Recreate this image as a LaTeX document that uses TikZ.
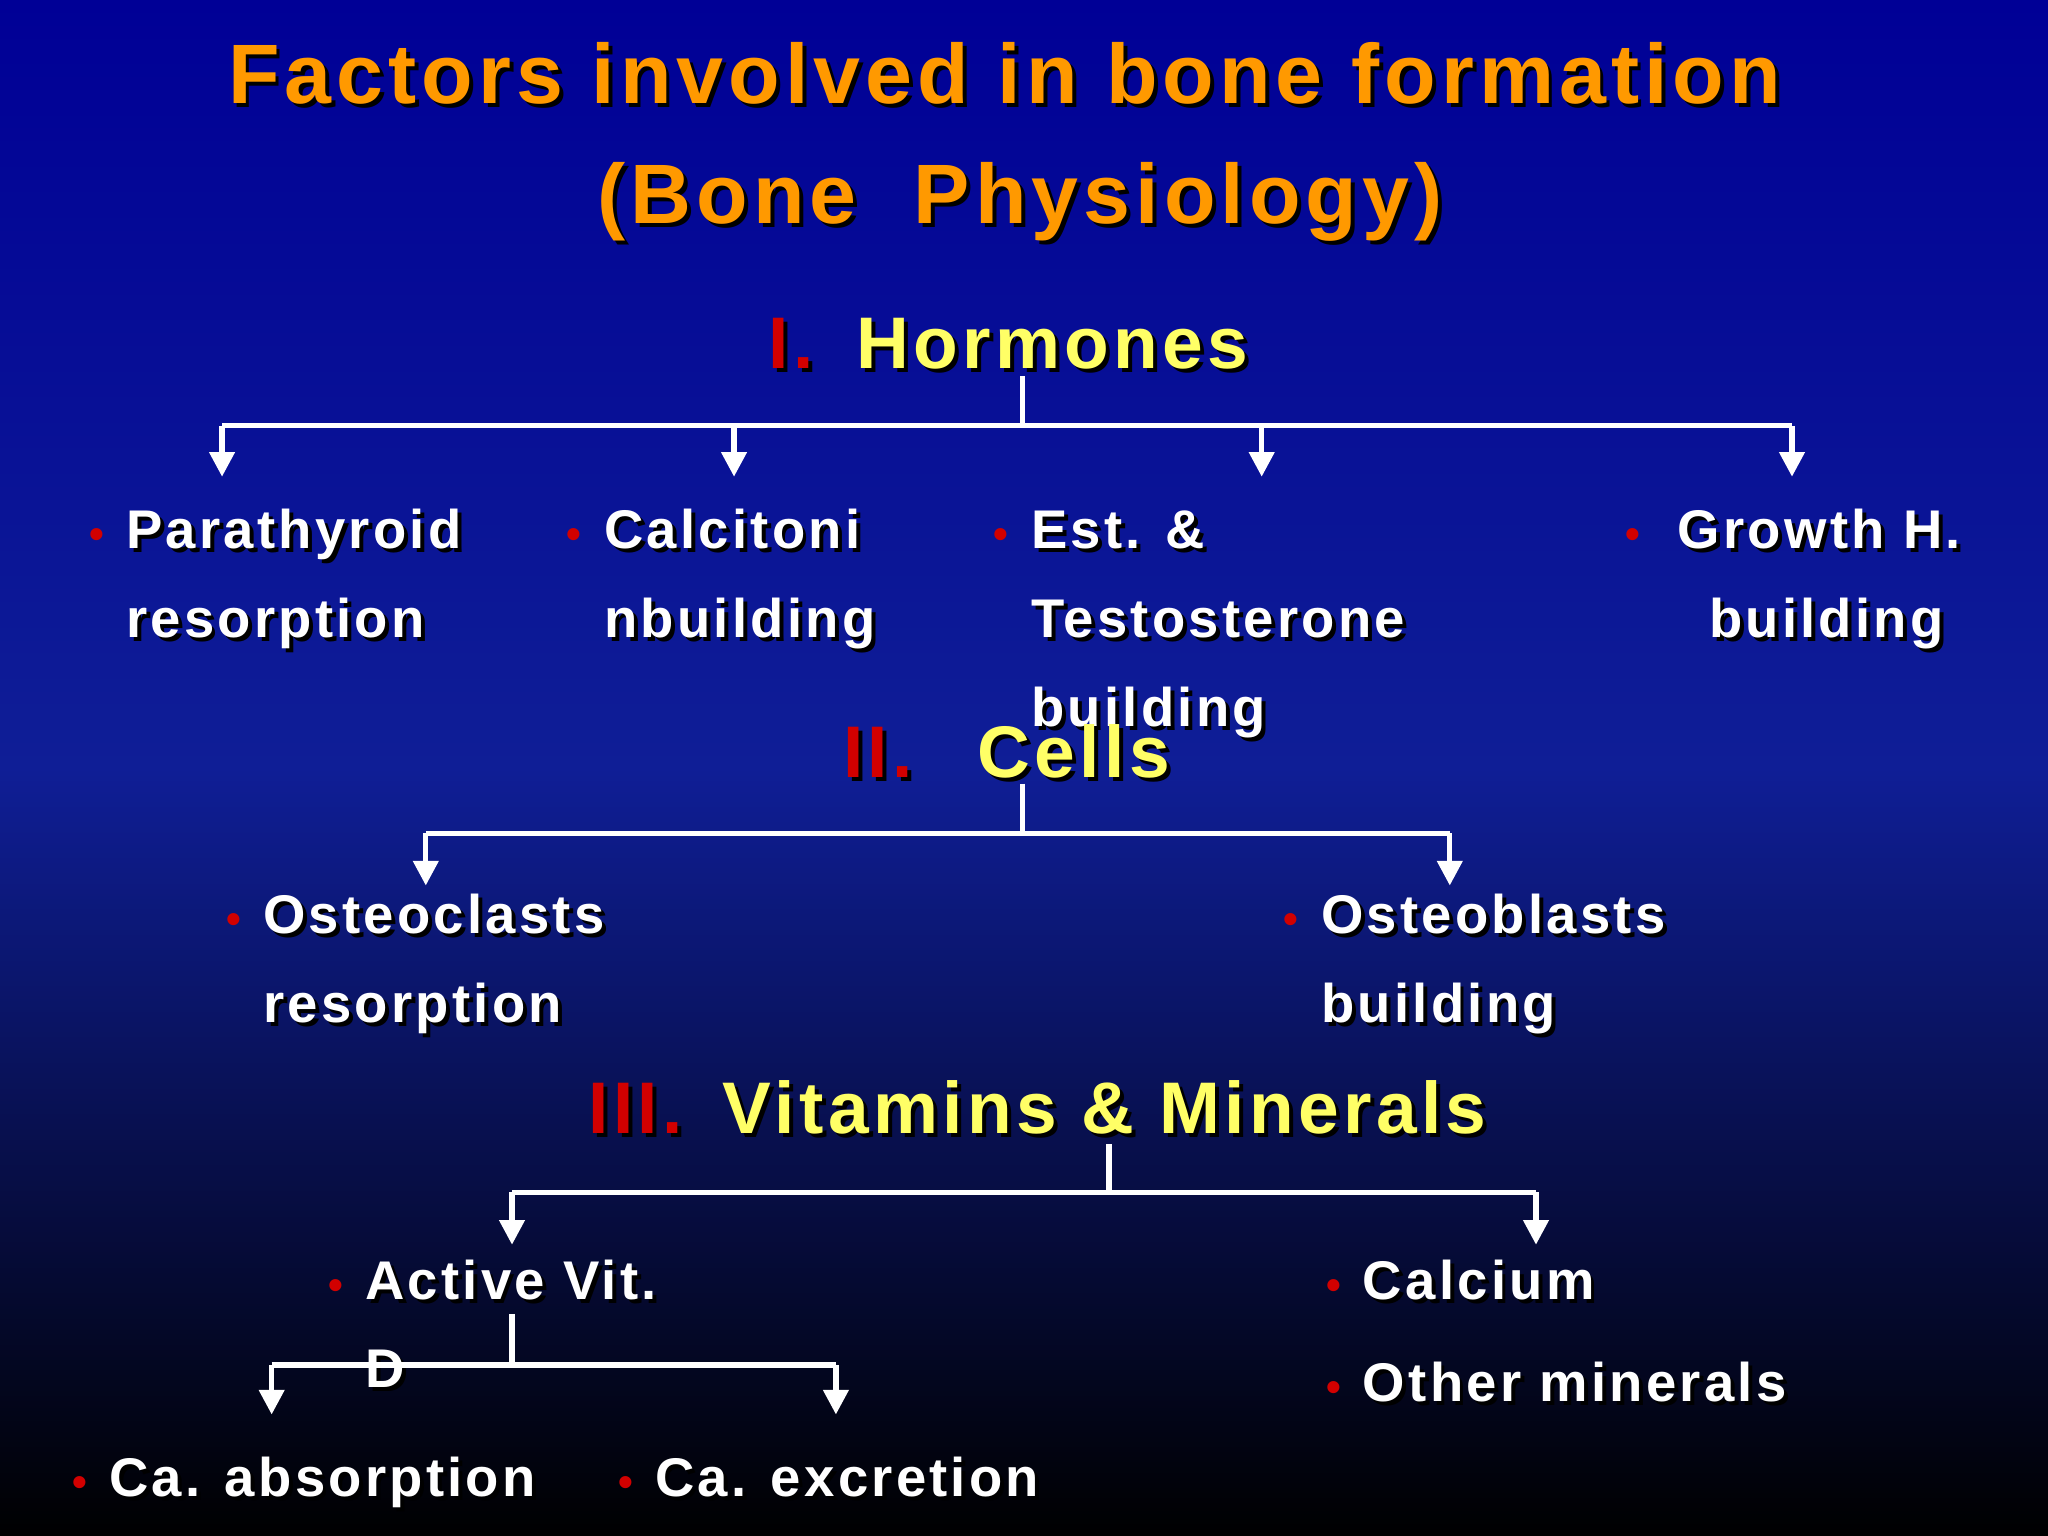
\documentclass[tikz,border=0pt]{standalone}
\usepackage{fontspec}
\setmainfont{Liberation Sans}[LetterSpace=6]
\usetikzlibrary{arrows.meta}
\definecolor{ttl}{RGB}{255,153,0}
\definecolor{yel}{RGB}{255,255,102}
\definecolor{rd}{RGB}{210,0,0}
\newcommand\tn[5][]{\node[#2,black,anchor=base west] at ([shift={(3,3)}]#4) {#5};\node[#2,anchor=base west,#1] (#3) at (#4) {#5};}
\newcommand\bl[2]{\node[anchor=base west,text=rd,font=\bfseries\fontsize{12}{12}\selectfont,inner sep=0] (#1) at (#2) {•};}
\tikzset{
 item/.style={text=white,font=\bfseries\fontsize{15.5}{18}\selectfont,inner sep=0},
 head/.style={text=yel,font=\bfseries\fontsize{20.8}{24}\selectfont,inner sep=0},
 num/.style={text=rd,font=\bfseries\fontsize{20.8}{24}\selectfont,inner sep=0},
 ttlf/.style={text=ttl,font=\bfseries\fontsize{24}{28}\selectfont,inner sep=0},
 conn/.style={white,line width=1.5pt},
 arr/.style={white,line width=1.5pt,-{Triangle[width=7pt,length=7pt]}}
}
\begin{document}
\begin{tikzpicture}[x=0.013061cm,y=-0.013061cm]
\shade[top color={rgb,255:red,0;green,0;blue,150},bottom color=black,middle color={rgb,255:red,15;green,30;blue,150}] (0,0) rectangle (1568,1176);
\useasboundingbox (0,0) rectangle (1568,1176);
% title
\node[ttlf,black,anchor=base] at (772,82) {Factors involved in bone formation};
\node[ttlf,anchor=base] (t1) at (769,79) {Factors involved in bone formation};
\node[ttlf,black,anchor=base] at (784,174) {(Bone\ \ Physiology)};
\node[ttlf,anchor=base] (t2) at (781,171) {(Bone\ \ Physiology)};
% I
\tn{num}{n1}{588,282}{I.}
\tn{head}{h1}{655,282}{Hormones}
\coordinate (s1) at (783,288); \coordinate (j1) at (783,326);
\draw[conn] (s1)--(j1); \draw[conn] (170,326)--(1372,326);
\foreach \x/\n in {170/a,562/b,966/c,1372/d}{\coordinate (p\n) at (\x,326); \coordinate (q\n) at (\x,365); \draw[arr] (p\n)--(q\n);}
\bl{b1}{68,420}\tn{item}{i1}{96,420}{Parathyroid}\tn{item}{i1b}{96,488}{resorption}
\bl{b2}{433,420}\tn{item}{i2}{462,420}{Calcitoni}\tn{item}{i2b}{462,488}{nbuilding}
\bl{b3}{760,420}\tn{item}{i3}{789,420}{Est. \&}\tn{item}{i3b}{789,488}{Testosterone}\tn{item}{i3c}{789,556}{building}
\bl{b4}{1244,420}\tn{item}{i4}{1284,420}{Growth H.}\tn{item}{i4b}{1308,488}{building}
% II
\tn{num}{n2}{645,595}{II.}
\tn{head}{h2}{748,595}{Cells}
\coordinate (s2) at (783,600); \coordinate (j2) at (783,638);
\draw[conn] (s2)--(j2); \draw[conn] (326,638)--(1110,638);
\foreach \x/\n in {326/e,1110/f}{\coordinate (p\n) at (\x,638); \coordinate (q\n) at (\x,678); \draw[arr] (p\n)--(q\n);}
\bl{b5}{173,715}\tn{item}{i5}{201,715}{Osteoclasts}\tn{item}{i5b}{201,783}{resorption}
\bl{b6}{982,715}\tn{item}{i6}{1011,715}{Osteoblasts}\tn{item}{i6b}{1011,783}{building}
% III
\tn{num}{n3}{450,868}{III.}
\tn{head}{h3}{553,868}{Vitamins \& Minerals}
\coordinate (s3) at (849,876); \coordinate (j3) at (849,913);
\draw[conn] (s3)--(j3); \draw[conn] (392,913)--(1176,913);
\foreach \x/\n in {392/g,1176/h}{\coordinate (p\n) at (\x,913); \coordinate (q\n) at (\x,953); \draw[arr] (p\n)--(q\n);}
\bl{b7}{251,995}\tn{item}{i7}{279,995}{Active Vit.}\tn{item}{i7b}{279,1062}{D}
\bl{b8}{1015,995}\tn{item}{i8}{1043,995}{Calcium}
\bl{b9}{1015,1073}\tn{item}{i9}{1043,1073}{Other minerals}
\coordinate (s4) at (392,1006); \coordinate (j4) at (392,1045);
\draw[conn] (s4)--(j4); \draw[conn] (208,1045)--(640,1045);
\foreach \x/\n in {208/k,640/l}{\coordinate (p\n) at (\x,1045); \coordinate (q\n) at (\x,1083); \draw[arr] (p\n)--(q\n);}
\bl{b10}{55,1146}\tn{item}{i10}{83,1146}{Ca. absorption}
\bl{b11}{473,1146}\tn{item}{i11}{501,1146}{Ca. excretion}
\end{tikzpicture}
\end{document}
